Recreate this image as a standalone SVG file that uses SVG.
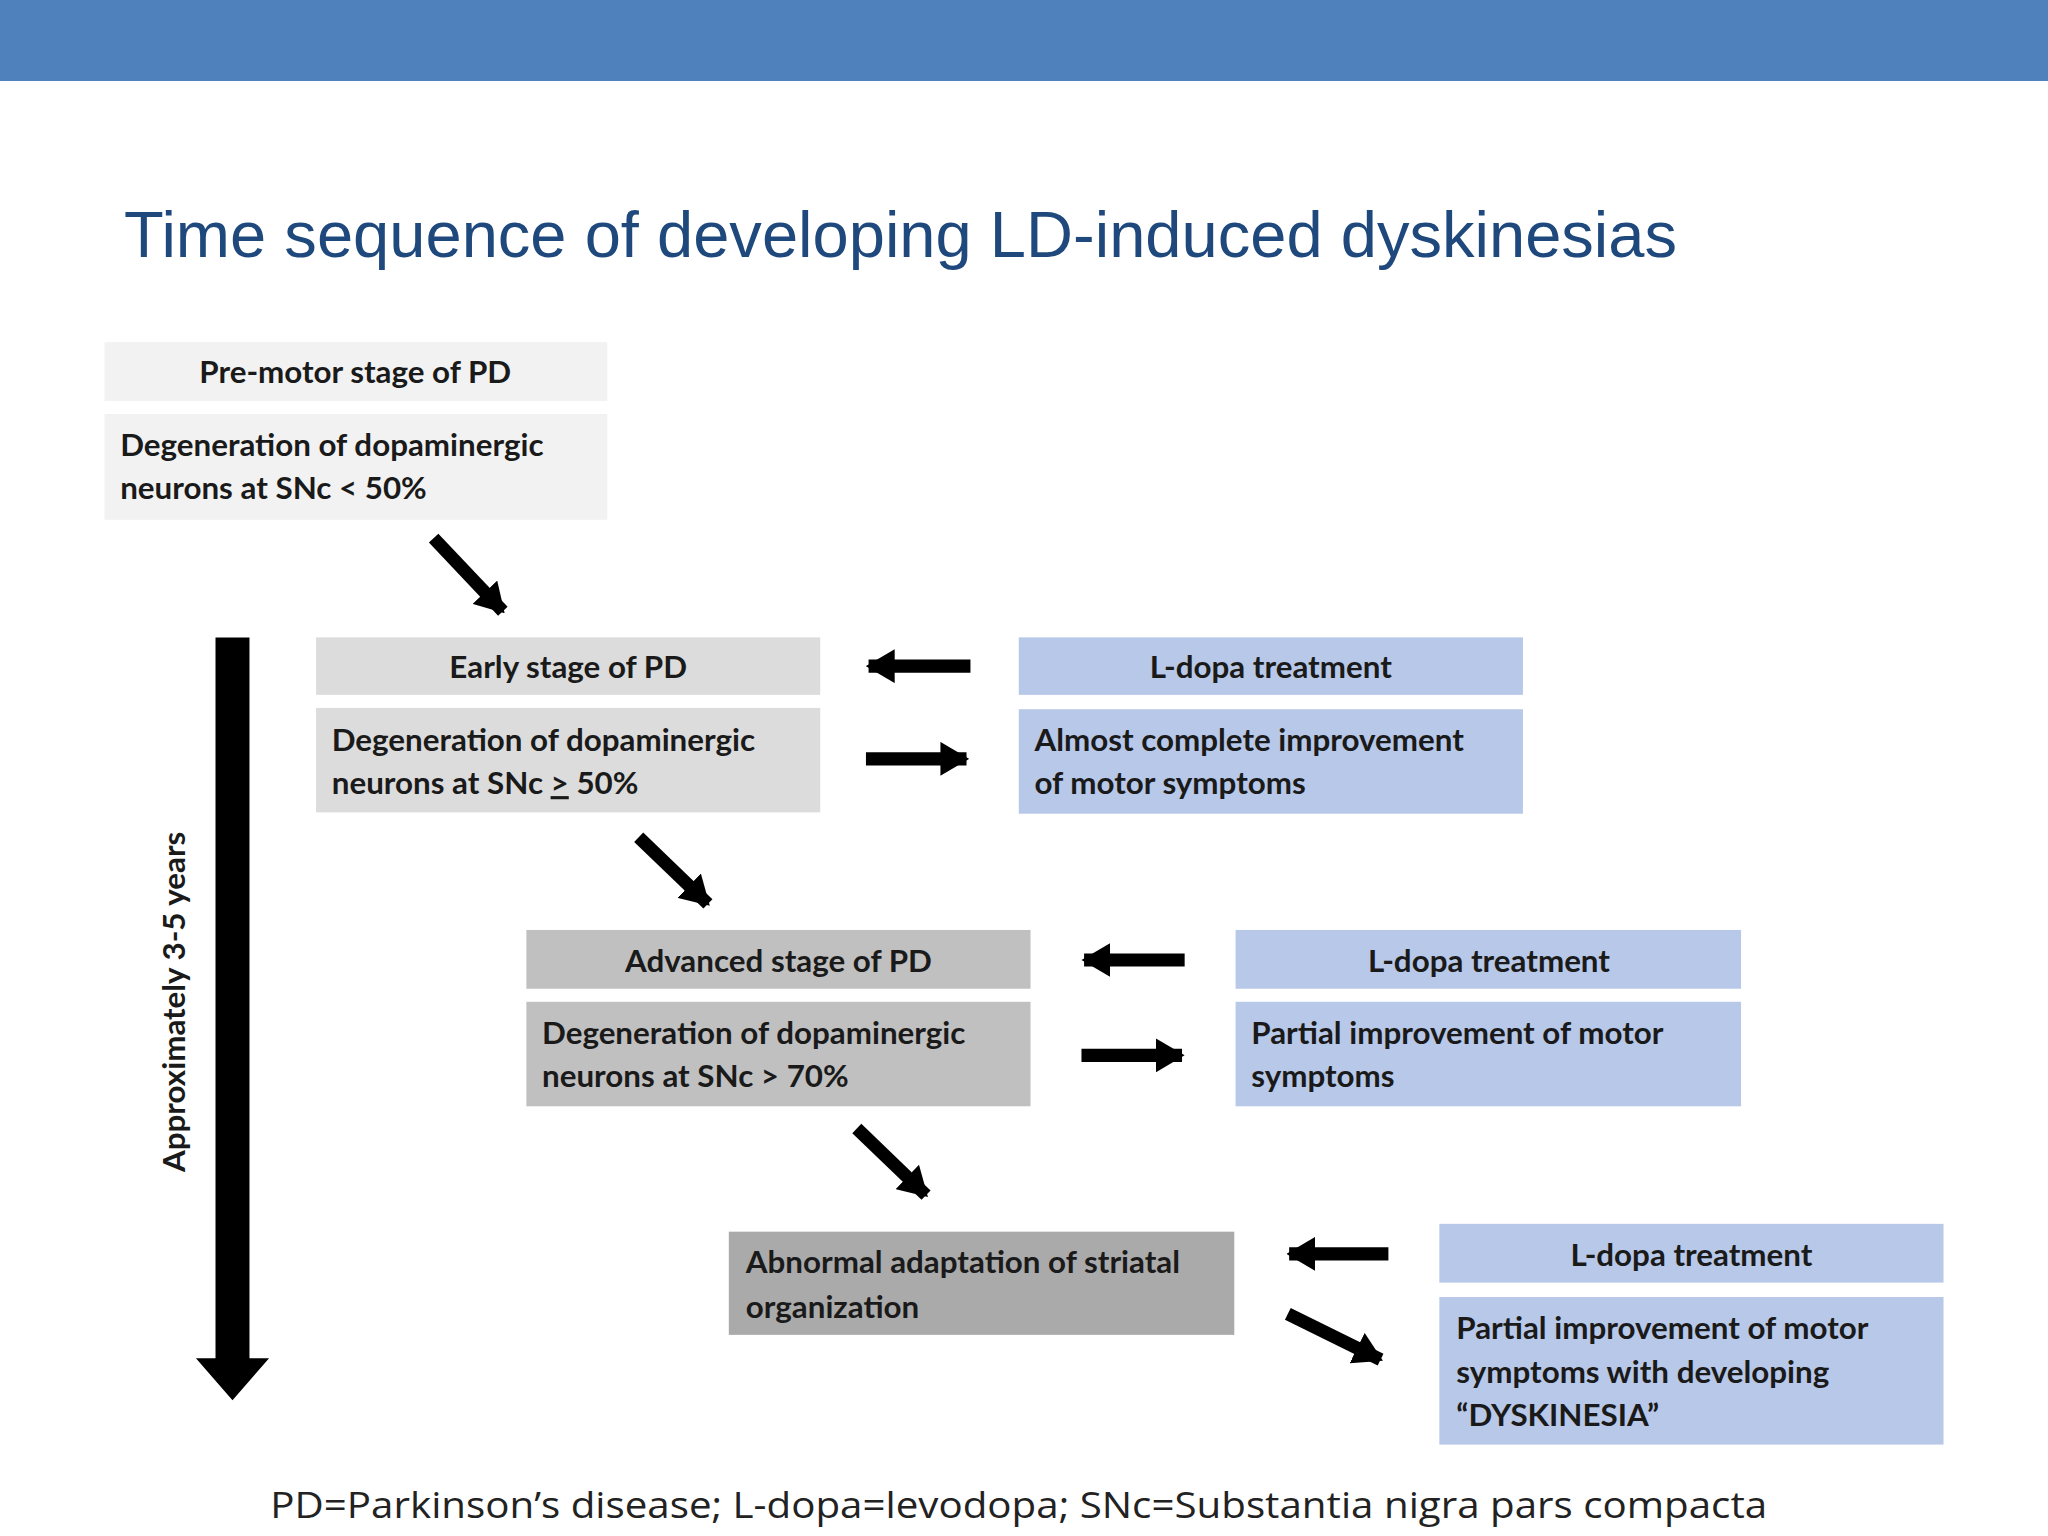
<svg xmlns="http://www.w3.org/2000/svg" width="2048" height="1536" viewBox="0 0 2048 1536">
<defs>
<style>
.t{font-family:Lato,"Open Sans",sans-serif;font-weight:bold;font-size:24px;fill:#1a1a1a}
.c{text-anchor:middle}
.a{stroke:#000;stroke-width:10;fill:none;marker-end:url(#h)}
</style>
<marker id="h" viewBox="0 0 22 26" refX="20" refY="13" markerWidth="2.2" markerHeight="2.6" orient="auto" markerUnits="strokeWidth">
<path d="M0,0 L22,13 L0,26 Z" fill="#000"/>
</marker>
</defs>
<rect width="2048" height="1536" fill="#fff"/>
<rect width="2048" height="81" fill="#4F81BD"/>
<g transform="scale(1.30612)">
<text x="95" y="197" font-family="Liberation Sans, Arial, sans-serif" font-size="50" fill="#1F497D" textLength="1189" lengthAdjust="spacingAndGlyphs">Time sequence of developing LD-induced dyskinesias</text>
<g id="premotor">
<rect x="80" y="262" width="385" height="45" fill="#F2F2F2"/>
<rect x="80" y="317" width="385" height="81" fill="#F2F2F2"/>
<text class="t c" x="272" y="293">Pre-motor stage of PD</text>
<text class="t" x="92" y="349">Degeneration of dopaminergic</text>
<text class="t" x="92" y="382">neurons at SNc &lt; 50%</text>
</g>
<g id="early">
<rect x="242" y="488" width="386" height="44" fill="#DCDCDC"/>
<rect x="242" y="542" width="386" height="80" fill="#DCDCDC"/>
<text class="t c" x="435" y="519">Early stage of PD</text>
<text class="t" x="254" y="575">Degeneration of dopaminergic</text>
<text class="t" x="254" y="608">neurons at SNc <tspan text-decoration="underline">&gt;</tspan> 50%</text>
</g>
<g id="ldopa1">
<rect x="780" y="488" width="386" height="44" fill="#B7C8E8"/>
<rect x="780" y="543" width="386" height="80" fill="#B7C8E8"/>
<text class="t c" x="973" y="519">L-dopa treatment</text>
<text class="t" x="792" y="575">Almost complete improvement</text>
<text class="t" x="792" y="608">of motor symptoms</text>
</g>
<g id="advanced">
<rect x="403" y="712" width="386" height="45" fill="#C0C0C0"/>
<rect x="403" y="767" width="386" height="80" fill="#C0C0C0"/>
<text class="t c" x="596" y="744">Advanced stage of PD</text>
<text class="t" x="415" y="799">Degeneration of dopaminergic</text>
<text class="t" x="415" y="832">neurons at SNc &gt; 70%</text>
</g>
<g id="ldopa2">
<rect x="946" y="712" width="387" height="45" fill="#B7C8E8"/>
<rect x="946" y="767" width="387" height="80" fill="#B7C8E8"/>
<text class="t c" x="1140" y="744">L-dopa treatment</text>
<text class="t" x="958" y="799">Partial improvement of motor</text>
<text class="t" x="958" y="832">symptoms</text>
</g>
<g id="abnormal">
<rect x="558" y="943" width="387" height="79" fill="#AAAAAA"/>
<text class="t" x="571" y="975">Abnormal adaptation of striatal</text>
<text class="t" x="571" y="1009">organization</text>
</g>
<g id="ldopa3">
<rect x="1102" y="937" width="386" height="45" fill="#B7C8E8"/>
<rect x="1102" y="993" width="386" height="113" fill="#B7C8E8"/>
<text class="t c" x="1295" y="969">L-dopa treatment</text>
<text class="t" x="1115" y="1025">Partial improvement of motor</text>
<text class="t" x="1115" y="1059">symptoms with developing</text>
<text class="t" x="1115" y="1092">“DYSKINESIA”</text>
</g>
<g id="connectors">
<line class="a" x1="332" y1="412" x2="385" y2="468"/>
<line class="a" x1="743" y1="510" x2="665" y2="510"/>
<line class="a" x1="663" y1="581" x2="740" y2="581"/>
<line class="a" x1="489" y1="641" x2="542" y2="692"/>
<line class="a" x1="907" y1="735" x2="830" y2="735"/>
<line class="a" x1="828" y1="808" x2="905" y2="808"/>
<line class="a" x1="656" y1="864" x2="709" y2="915"/>
<line class="a" x1="1063" y1="960" x2="987" y2="960"/>
<line class="a" x1="986" y1="1006" x2="1057" y2="1041"/>
<polygon points="165,488 191,488 191,1040 206,1040 178,1072 150,1040 165,1040" fill="#000"/>
</g>
<text class="t c" transform="translate(142,767) rotate(-90)">Approximately 3-5 years</text>
<text x="207" y="1162" font-family="Open Sans, sans-serif" font-size="28" fill="#222" textLength="1146" lengthAdjust="spacingAndGlyphs">PD=Parkinson’s disease; L-dopa=levodopa; SNc=Substantia nigra pars compacta</text>
</g>
</svg>
